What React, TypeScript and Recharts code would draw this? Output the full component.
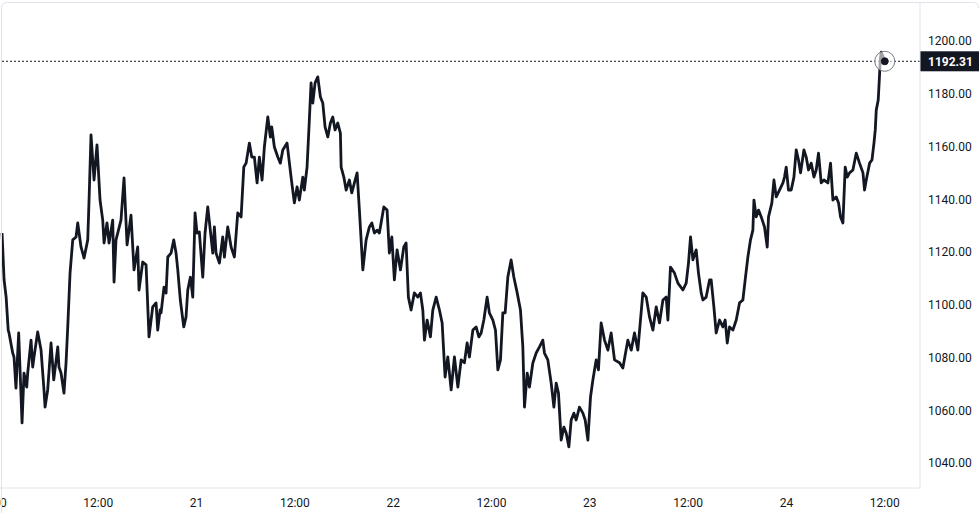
import React from 'react';
import { LineChart, Line, XAxis, YAxis, ReferenceLine, ReferenceDot } from 'recharts';

// time in hours since day 20 00:00
const hours = [
  0.25, 0.5, 0.75, 1.0, 1.1, 1.55, 1.71, 1.95, 2.28, 2.69, 2.93, 3.26, 3.38, 3.79, 3.99, 4.15, 4.6, 5.01, 5.37, 5.5,
  5.82, 6.23, 6.56, 7.05, 7.2, 7.45, 7.81, 8.06, 8.27, 8.55, 8.88, 9.28, 9.49, 9.89, 10.26, 10.71, 10.87, 11.11, 11.48, 11.84,
  12.21, 12.54, 12.7, 13.06, 13.31, 13.76, 13.92, 14.16, 14.77, 15.14, 15.51, 15.99, 16.36, 16.81, 16.97, 17.42, 17.83, 18.19, 18.64, 19.05,
  19.25, 19.54, 19.66, 20.02, 20.27, 20.48, 20.88, 21.21, 21.49, 21.7, 22.01, 22.43, 22.71, 22.92, 23.24, 23.53, 23.81, 24.05, 24.33, 24.75,
  25.03, 25.36, 25.76, 25.97, 26.17, 26.37, 26.78, 27.19, 27.39, 27.8, 28.21, 28.61, 29.02, 29.43, 29.76, 30.04, 30.44, 30.73, 31.05, 31.38,
  31.66, 31.99, 32.27, 32.69, 33.0, 33.17, 33.49, 33.91, 34.22, 34.52, 35.04, 35.53, 35.93, 36.26, 36.54, 36.96, 37.15, 37.48, 37.76, 37.97,
  38.18, 38.46, 38.79, 39.11, 39.4, 39.68, 40.01, 40.33, 40.62, 40.9, 41.23, 41.55, 41.64, 41.97, 42.25, 42.65, 42.94, 43.26, 43.59, 43.87,
  44.08, 44.29, 44.69, 45.09, 45.39, 45.7, 46.03, 46.31, 46.85, 47.25, 47.53, 47.83, 48.14, 48.47, 48.88, 49.29, 49.57, 49.85, 50.18, 50.58,
  51.0, 51.32, 51.61, 51.81, 52.14, 52.54, 52.83, 53.24, 53.64, 53.97, 54.33, 54.66, 55.07, 55.47, 55.89, 56.29, 56.69, 57.02, 57.3, 57.72,
  58.12, 58.45, 58.73, 59.06, 59.46, 59.74, 60.16, 60.48, 60.77, 61.09, 61.38, 61.66, 61.99, 62.39, 62.72, 63.13, 63.53, 63.82, 64.02, 64.35,
  64.63, 65.04, 65.45, 65.85, 66.26, 66.46, 66.87, 67.28, 67.61, 67.89, 68.17, 68.5, 68.83, 69.11, 69.44, 69.72, 70.05, 70.33, 70.73, 71.15,
  71.43, 71.76, 72.08, 72.37, 72.77, 73.05, 73.38, 73.79, 74.2, 74.6, 75.01, 75.62, 76.03, 76.64, 77.05, 77.45, 77.86, 78.47, 78.88, 79.28,
  79.7, 80.1, 80.5, 80.92, 81.32, 81.53, 81.84, 82.33, 82.75, 83.36, 83.76, 84.04, 84.29, 84.58, 84.98, 85.26, 85.59, 85.8, 86.2, 86.61,
  86.81, 87.14, 87.42, 87.83, 88.24, 88.52, 88.77, 89.05, 89.46, 89.87, 90.27, 90.68, 90.96, 91.29, 91.61, 91.9, 92.03, 92.31, 92.59, 92.92,
  93.32, 93.65, 93.81, 94.22, 94.47, 94.75, 95.15, 95.57, 95.76, 95.97, 96.25, 96.58, 96.91, 97.19, 97.47, 97.72, 98.13, 98.41, 98.69, 99.02,
  99.35, 99.63, 99.91, 100.24, 100.57, 101.06, 101.38, 101.67, 102.08, 102.36, 102.6, 102.89, 103.17, 103.42, 103.7, 104.11, 104.52, 104.92, 105.34, 105.53,
  105.74, 106.15, 106.44, 106.68, 106.84, 106.96, 107.2, 107.33, 107.45, 107.57, 108.0,
];

const prices = [
  1127.2, 1109.4, 1102.9, 1090.4, 1089.3, 1081.7, 1080.2, 1068.4, 1089.3, 1055.2, 1074.1, 1068.8, 1074.1, 1086.6, 1076.4, 1080.2, 1089.7, 1082.8, 1067.7, 1061.2,
  1067.7, 1085.5, 1071.5, 1084.0, 1076.4, 1074.1, 1066.5, 1077.9, 1091.6, 1112.0, 1124.6, 1125.7, 1131.0, 1121.9, 1117.7, 1124.6, 1139.7, 1164.4, 1147.3, 1160.6,
  1139.7, 1132.1, 1123.4, 1131.0, 1123.4, 1132.1, 1108.6, 1124.6, 1132.1, 1148.1, 1122.7, 1134.0, 1113.2, 1121.9, 1105.6, 1116.2, 1115.1, 1087.8, 1099.2, 1100.7,
  1090.4, 1098.0, 1096.9, 1106.7, 1104.4, 1118.1, 1119.6, 1124.6, 1119.6, 1113.2, 1101.8, 1091.6, 1095.4, 1105.6, 1110.5, 1102.9, 1134.8, 1127.2, 1127.6, 1110.5,
  1127.2, 1137.1, 1125.7, 1119.6, 1129.5, 1119.6, 1115.8, 1125.7, 1118.1, 1129.5, 1121.9, 1118.1, 1134.8, 1133.3, 1152.2, 1153.7, 1161.3, 1156.0, 1156.0, 1146.2,
  1156.0, 1147.3, 1159.8, 1171.2, 1163.6, 1167.4, 1159.8, 1156.0, 1153.7, 1158.7, 1161.3, 1148.4, 1138.6, 1144.7, 1139.7, 1148.4, 1143.5, 1152.2, 1170.0, 1184.1,
  1176.5, 1184.1, 1186.4, 1178.8, 1176.5, 1167.4, 1163.6, 1168.9, 1171.2, 1166.3, 1168.9, 1165.1, 1152.2, 1148.4, 1143.5, 1147.3, 1142.4, 1146.2, 1150.0, 1135.9,
  1124.6, 1113.2, 1124.6, 1129.5, 1131.0, 1127.2, 1128.3, 1127.2, 1137.1, 1135.9, 1119.6, 1125.7, 1109.4, 1120.8, 1113.2, 1121.9, 1123.4, 1102.9, 1098.0, 1104.5,
  1102.9, 1104.5, 1098.0, 1086.6, 1094.2, 1087.8, 1098.0, 1102.9, 1098.0, 1093.1, 1072.6, 1080.2, 1067.7, 1080.2, 1068.8, 1079.1, 1078.0, 1085.5, 1080.2, 1090.4,
  1091.6, 1087.8, 1089.3, 1094.2, 1102.9, 1096.9, 1094.2, 1090.4, 1075.3, 1079.1, 1096.9, 1096.9, 1110.5, 1117.0, 1110.5, 1104.5, 1098.0, 1084.0, 1061.2, 1074.1,
  1068.8, 1077.9, 1081.7, 1084.0, 1086.6, 1081.7, 1079.1, 1070.3, 1061.2, 1070.3, 1066.5, 1048.7, 1053.6, 1051.4, 1046.1, 1056.3, 1058.9, 1056.3, 1061.2, 1058.9,
  1056.3, 1048.7, 1065.0, 1071.5, 1079.1, 1075.3, 1093.1, 1086.6, 1082.8, 1089.3, 1079.1, 1078.0, 1076.0, 1086.6, 1082.8, 1089.3, 1082.8, 1104.5, 1102.9, 1095.4,
  1090.4, 1099.2, 1093.1, 1101.8, 1102.9, 1094.2, 1114.3, 1112.0, 1108.2, 1105.6, 1108.2, 1115.8, 1125.7, 1117.0, 1120.8, 1112.0, 1104.5, 1101.8, 1102.9, 1109.4,
  1109.4, 1099.2, 1089.3, 1094.2, 1091.6, 1094.2, 1085.5, 1091.6, 1090.4, 1094.2, 1100.7, 1101.8, 1109.4, 1118.1, 1124.6, 1128.3, 1139.7, 1133.3, 1135.9, 1133.3,
  1129.5, 1121.9, 1133.3, 1138.6, 1147.3, 1140.9, 1143.5, 1146.2, 1148.4, 1152.2, 1143.5, 1143.5, 1148.4, 1158.7, 1154.9, 1150.0, 1158.7, 1156.0, 1151.1, 1153.7,
  1148.4, 1151.1, 1157.5, 1146.2, 1147.3, 1146.2, 1153.7, 1139.7, 1140.9, 1138.6, 1133.3, 1131.0, 1152.2, 1148.4, 1150.0, 1151.1, 1157.5, 1153.7, 1150.0, 1143.5,
  1147.3, 1153.7, 1154.9, 1161.3, 1166.3, 1173.8, 1177.6, 1185.2, 1192.8, 1195.8, 1192.31,
];

const xTicks = [0, 12, 24, 36, 48, 60, 72, 84, 96, 108];
const xTickLabels = ['20', '12:00', '21', '12:00', '22', '12:00', '23', '12:00', '24', '12:00'];
const yTicks = [1040, 1060, 1080, 1100, 1120, 1140, 1160, 1180, 1200];
const lastPrice = 1192.31;
const lastHour = 108;

const data = hours.map((h, i) => ({ h, p: prices[i] }));

const FONT = 'Roboto, "Noto Sans", sans-serif';
const TEXT = '#131722';
const GRID = '#e0e3eb';

const PriceLabel = (props: any) => {
  const vb = props.viewBox || {};
  const right = (vb.x || 0) + (vb.width || 0);
  const y = vb.y || 0;
  return (
    <g>
      <rect x={right} y={y - 10} width={59} height={20} fill="#131722" />
      <text x={right + 8} y={y} dy="0.355em" fill="#ffffff" fontSize={12} fontWeight={700} fontFamily={FONT}>
        {lastPrice.toFixed(2)}
      </text>
    </g>
  );
};

export default function App() {
  return (
    <div style={{ position: 'absolute', left: 0, top: 0, width: 979, height: 513, background: '#ffffff' }}>
      <LineChart width={979} height={513} data={data} margin={{ top: 2, right: 0, bottom: 0, left: 0 }}>
        <XAxis
          dataKey="h"
          type="number"
          domain={[0, 112.3]}
          ticks={xTicks}
          interval={0}
          tickFormatter={(v: number) => xTickLabels[xTicks.indexOf(v)] ?? ''}
          height={25}
          axisLine={{ stroke: GRID }}
          tickLine={false}
          tickMargin={4}
          tick={{ fill: TEXT, fontSize: 12, fontFamily: FONT }}
          allowDataOverflow
        />
        <YAxis
          orientation="right"
          type="number"
          domain={[1030.52, 1214.79]}
          ticks={yTicks}
          interval={0}
          tickFormatter={(v: number) => v.toFixed(2)}
          width={59}
          axisLine={{ stroke: GRID }}
          tickLine={false}
          tickMargin={2}
          tick={{ fill: TEXT, fontSize: 12, fontFamily: FONT, textAnchor: 'start' }}
          allowDataOverflow
        />
        <ReferenceLine y={lastPrice} stroke="#131722" strokeWidth={1} strokeDasharray="2 2" label={<PriceLabel />} />
        <Line
          type="linear"
          dataKey="p"
          stroke="#131722"
          strokeWidth={2.8}
          dot={false}
          isAnimationActive={false}
          strokeLinejoin="round"
        />
        <ReferenceDot x={lastHour} y={lastPrice} r={10} fill="rgba(255,255,255,0.6)" stroke="#787b86" strokeWidth={1} />
        <ReferenceDot x={lastHour} y={lastPrice} r={3.5} fill="#131722" stroke="#131722" strokeWidth={1} />
      </LineChart>
      <svg width={979} height={513} style={{ position: 'absolute', left: 0, top: 0, pointerEvents: 'none' }}>
        <path d="M1.5,513 V8 Q1.5,2.5 7,2.5 H973 Q978.5,2.5 978.5,8" fill="none" stroke={GRID} strokeWidth={1} />
      </svg>
    </div>
  );
}
